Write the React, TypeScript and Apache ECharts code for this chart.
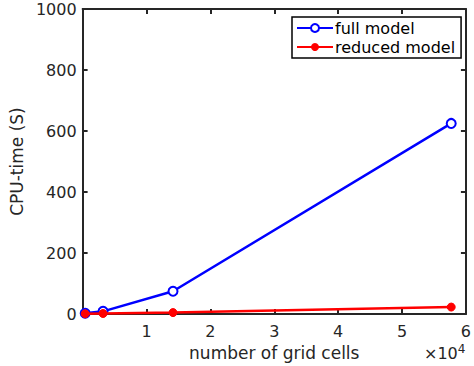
import React, { useEffect, useRef } from "react";
import * as echarts from "echarts";

const gridCells = [400, 3200, 14150, 57700];
const fullModel = [3, 9, 75, 625];
const reducedModel = [1, 2, 5, 23];
const xTicks = [0, 10000, 20000, 30000, 40000, 50000, 60000];
const yTicks = [0, 200, 400, 600, 800, 1000];

const FONT = "DejaVu Sans";
const AX = "#262626";

export default function App() {
  const ref = useRef<HTMLDivElement>(null);
  useEffect(() => {
    if (!ref.current) return;
    const chart = echarts.init(ref.current, null, { renderer: "svg" });
    const axisLine = { show: true, onZero: false, lineStyle: { color: AX, width: 2 } };
    const tick = { show: true, inside: true, length: 5, lineStyle: { color: AX, width: 2 } };
    chart.setOption({
      animation: false,
      backgroundColor: "#fff",
      grid: { left: 69, right: 8, top: 9, bottom: 49, containLabel: false },
      legend: {
        left: 292,
        top: 17,
        orient: "vertical",
        backgroundColor: "#fff",
        borderColor: "#000",
        borderWidth: 1.5,
        borderRadius: 0,
        padding: [3, 6, 3, 4],
        itemGap: 3,
        itemWidth: 36,
        itemHeight: 10,
        textStyle: { fontFamily: FONT, fontSize: 16, color: "#000", padding: [0, 0, 0, -3] },
        data: ["full model", "reduced model"],
      },
      xAxis: [
        {
          type: "value",
          min: xTicks[0],
          max: xTicks[xTicks.length - 1],
          interval: 10000,
          axisLine,
          axisTick: tick,
          splitLine: { show: false },
          axisLabel: {
            fontFamily: FONT,
            fontSize: 16,
            color: AX,
            margin: 9,
            formatter: (v: number) => (v === 0 ? "" : String(v / 10000)),
          },
          name: "number of grid cells",
          nameLocation: "middle",
          nameGap: 28,
          nameTextStyle: { fontFamily: FONT, fontSize: 17, color: AX },
        },
        {
          type: "value",
          position: "top",
          min: xTicks[0],
          max: xTicks[xTicks.length - 1],
          interval: 10000,
          axisLine,
          axisTick: tick,
          axisLabel: { show: false },
          splitLine: { show: false },
        },
      ],
      yAxis: [
        {
          type: "value",
          min: yTicks[0],
          max: yTicks[yTicks.length - 1],
          interval: 200,
          axisLine,
          axisTick: tick,
          splitLine: { show: false },
          axisLabel: {
            fontFamily: FONT,
            fontSize: 16,
            color: AX,
            margin: 6,
            formatter: (v: number) => String(v),
          },
          name: "CPU-time (S)",
          nameLocation: "middle",
          nameGap: 50,
          nameTextStyle: { fontFamily: FONT, fontSize: 17, color: AX },
        },
        {
          type: "value",
          position: "right",
          min: yTicks[0],
          max: yTicks[yTicks.length - 1],
          interval: 200,
          axisLine,
          axisTick: tick,
          axisLabel: { show: false },
          splitLine: { show: false },
        },
      ],
      graphic: [
        {
          type: "text",
          left: 424,
          top: 343,
          style: {
            text: "×10{s|4}",
            fontFamily: FONT,
            fontSize: 16,
            fill: AX,
            rich: { s: { fontFamily: FONT, fontSize: 12, fill: AX, verticalAlign: "top", padding: [0, 0, 8, 0] } },
          },
        },
      ],
      series: [
        {
          name: "full model",
          type: "line",
          data: gridCells.map((x, i) => [x, fullModel[i]]),
          color: "#0000ff",
          lineStyle: { color: "#0000ff", width: 2.5 },
          symbol: "emptyCircle",
          symbolSize: 9,
          itemStyle: { color: "#0000ff", borderColor: "#0000ff", borderWidth: 2 },
          z: 2,
        },
        {
          name: "reduced model",
          type: "line",
          data: gridCells.map((x, i) => [x, reducedModel[i]]),
          color: "#ff0000",
          lineStyle: { color: "#ff0000", width: 2.5 },
          symbol: "circle",
          symbolSize: 8,
          itemStyle: { color: "#ff0000", borderColor: "#ff0000" },
          z: 3,
        },
      ],
    });
    return () => chart.dispose();
  }, []);
  return <div ref={ref} style={{ width: 474, height: 366, position: "absolute", left: 0, top: 0 }} />;
}
